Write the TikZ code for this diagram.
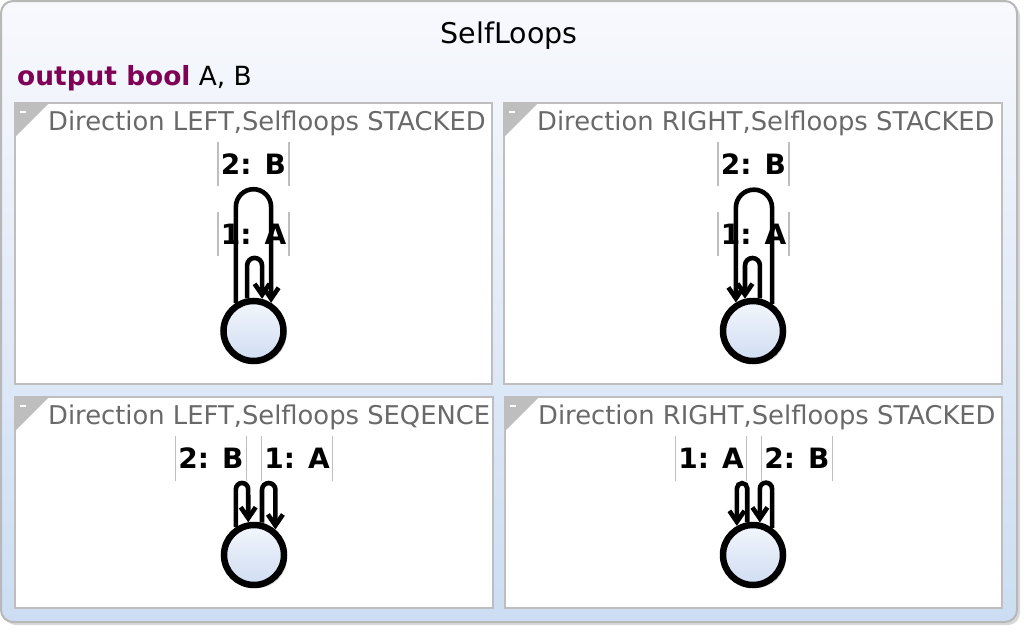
\documentclass[tikz,border=0pt]{standalone}
\usepackage{fontspec}
\setmainfont{DejaVu Sans}
\usepackage{xcolor}
\usetikzlibrary{arrows.meta,shadows}
\definecolor{keyword}{RGB}{127,0,85}
\definecolor{framegray}{RGB}{190,190,190}
\definecolor{titlegray}{RGB}{105,105,105}
\definecolor{boxtop}{RGB}{248,249,253}
\definecolor{boxbottom}{RGB}{204,221,243}
\definecolor{statetop}{RGB}{243,246,252}
\definecolor{statebottom}{RGB}{208,221,243}

\begin{document}
\begin{tikzpicture}[x=1pt,y=-1pt,%
% common options for the regions:
region/.style = {draw=framegray, line width=1.5, fill=white},
regiontitle/.style = {anchor=base west, inner sep=0, text=titlegray,
            font=\fontsize{25.8}{30}\selectfont},
% common options for the states:
state/.style = {circle, draw, line width=6.5, minimum size=60, inner sep=0,
            top color=statetop, bottom color=statebottom,
            drop shadow={shadow xshift=3pt, shadow yshift=-3pt, fill=black!35}},
% common options for the transitions and their labels:
trans/.style = {line width=4.6, -{Straight Barb[length=11pt,width=15pt]}},
lblbar/.style = {draw=framegray, line width=1.5},
translabel/.style = {minimum width=71, minimum height=44, inner sep=0,
            font=\bfseries\fontsize{28}{30}\selectfont,
            append after command={(\tikzlastnode.north west) edge[lblbar] (\tikzlastnode.south west)
            (\tikzlastnode.north east) edge[lblbar] (\tikzlastnode.south east)}}]
\useasboundingbox (0,0) rectangle (1026,632);
\draw[draw=black!28, line width=2, rounded corners=12, top color=boxtop, bottom color=boxbottom,
      drop shadow={shadow xshift=3pt, shadow yshift=-3pt, fill=black!30}] (1,1) rectangle (1017,622);
\node[anchor=base, inner sep=0, font=\fontsize{28.5}{32}\selectfont] (title) at (509,43) {SelfLoops};
\node[anchor=base west, inner sep=0, font=\fontsize{26.4}{30}\selectfont] (decl) at (17,85)
      {\textcolor{keyword}{\bfseries output bool} A, B};
% regions
\foreach \xa/\ya/\xb/\yb in {15/103/492/384, 504/103/1002/384, 15/397/493/608, 505/397/1002/608} {
  \draw[region] (\xa,\ya) rectangle (\xb,\yb);
  \fill[framegray] (\xa,\ya) -- ++(34,0) -- ++(-34,34) -- cycle;
  \draw[white, line width=1.5] (\xa+5,\ya+9) -- ++(6,0);
}
\node[regiontitle] (r1) at (48,130) {Direction LEFT,Selfloops STACKED};
\node[regiontitle] (r2) at (537,130) {Direction RIGHT,Selfloops STACKED};
\node[regiontitle] (r3) at (48,424) {Direction LEFT,Selfloops SEQENCE};
\node[regiontitle] (r4) at (538,424) {Direction RIGHT,Selfloops STACKED};
\node[translabel] (l1b) at (253.5,164) {2: B};
\node[translabel] (l1a) at (253.5,234) {1: A};
\node[translabel] (l2b) at (753.5,164) {2: B};
\node[translabel] (l2a) at (753.5,234) {1: A};
\node[translabel] (l3b) at (211,458.5) {2: B};
\node[translabel] (l3a) at (297,458.5) {1: A};
\node[translabel] (l4a) at (711,458.5) {1: A};
\node[translabel] (l4b) at (797,458.5) {2: B};
\node[state] (s1) at (253.5,331) {};
\node[state] (s2) at (753,331) {};
\node[state] (s3) at (254,555) {};
\node[state] (s4) at (753,555) {};
\draw[trans] (s1.101) -- ++(0,-33) arc[start angle=180, end angle=360, radius=7.45] -- (s1.75);
\draw[trans] (s1.122) -- ++(0,-96) arc[start angle=180, end angle=360, radius=17.6] -- (s1.58);
\draw[trans] (s2.78) -- ++(0,-33) arc[start angle=0, end angle=-180, radius=7.45] -- (s2.104);
\draw[trans] (s2.55) -- ++(0,-96) arc[start angle=0, end angle=-180, radius=18.1] -- (s2.121);
\draw[trans] (s3.123) -- ++(0,-38) arc[start angle=180, end angle=360, radius=6.15] -- (s3.100);
\draw[trans] (s3.76) -- ++(0,-33) arc[start angle=180, end angle=360, radius=6.7] -- (s3.50);
\draw[trans] (s4.100) -- ++(0,-34) arc[start angle=0, end angle=-180, radius=5.15] -- (s4.119);
\draw[trans] (s4.55) -- ++(0,-39) arc[start angle=0, end angle=-180, radius=6.1] -- (s4.78);
\end{tikzpicture}
\end{document}
